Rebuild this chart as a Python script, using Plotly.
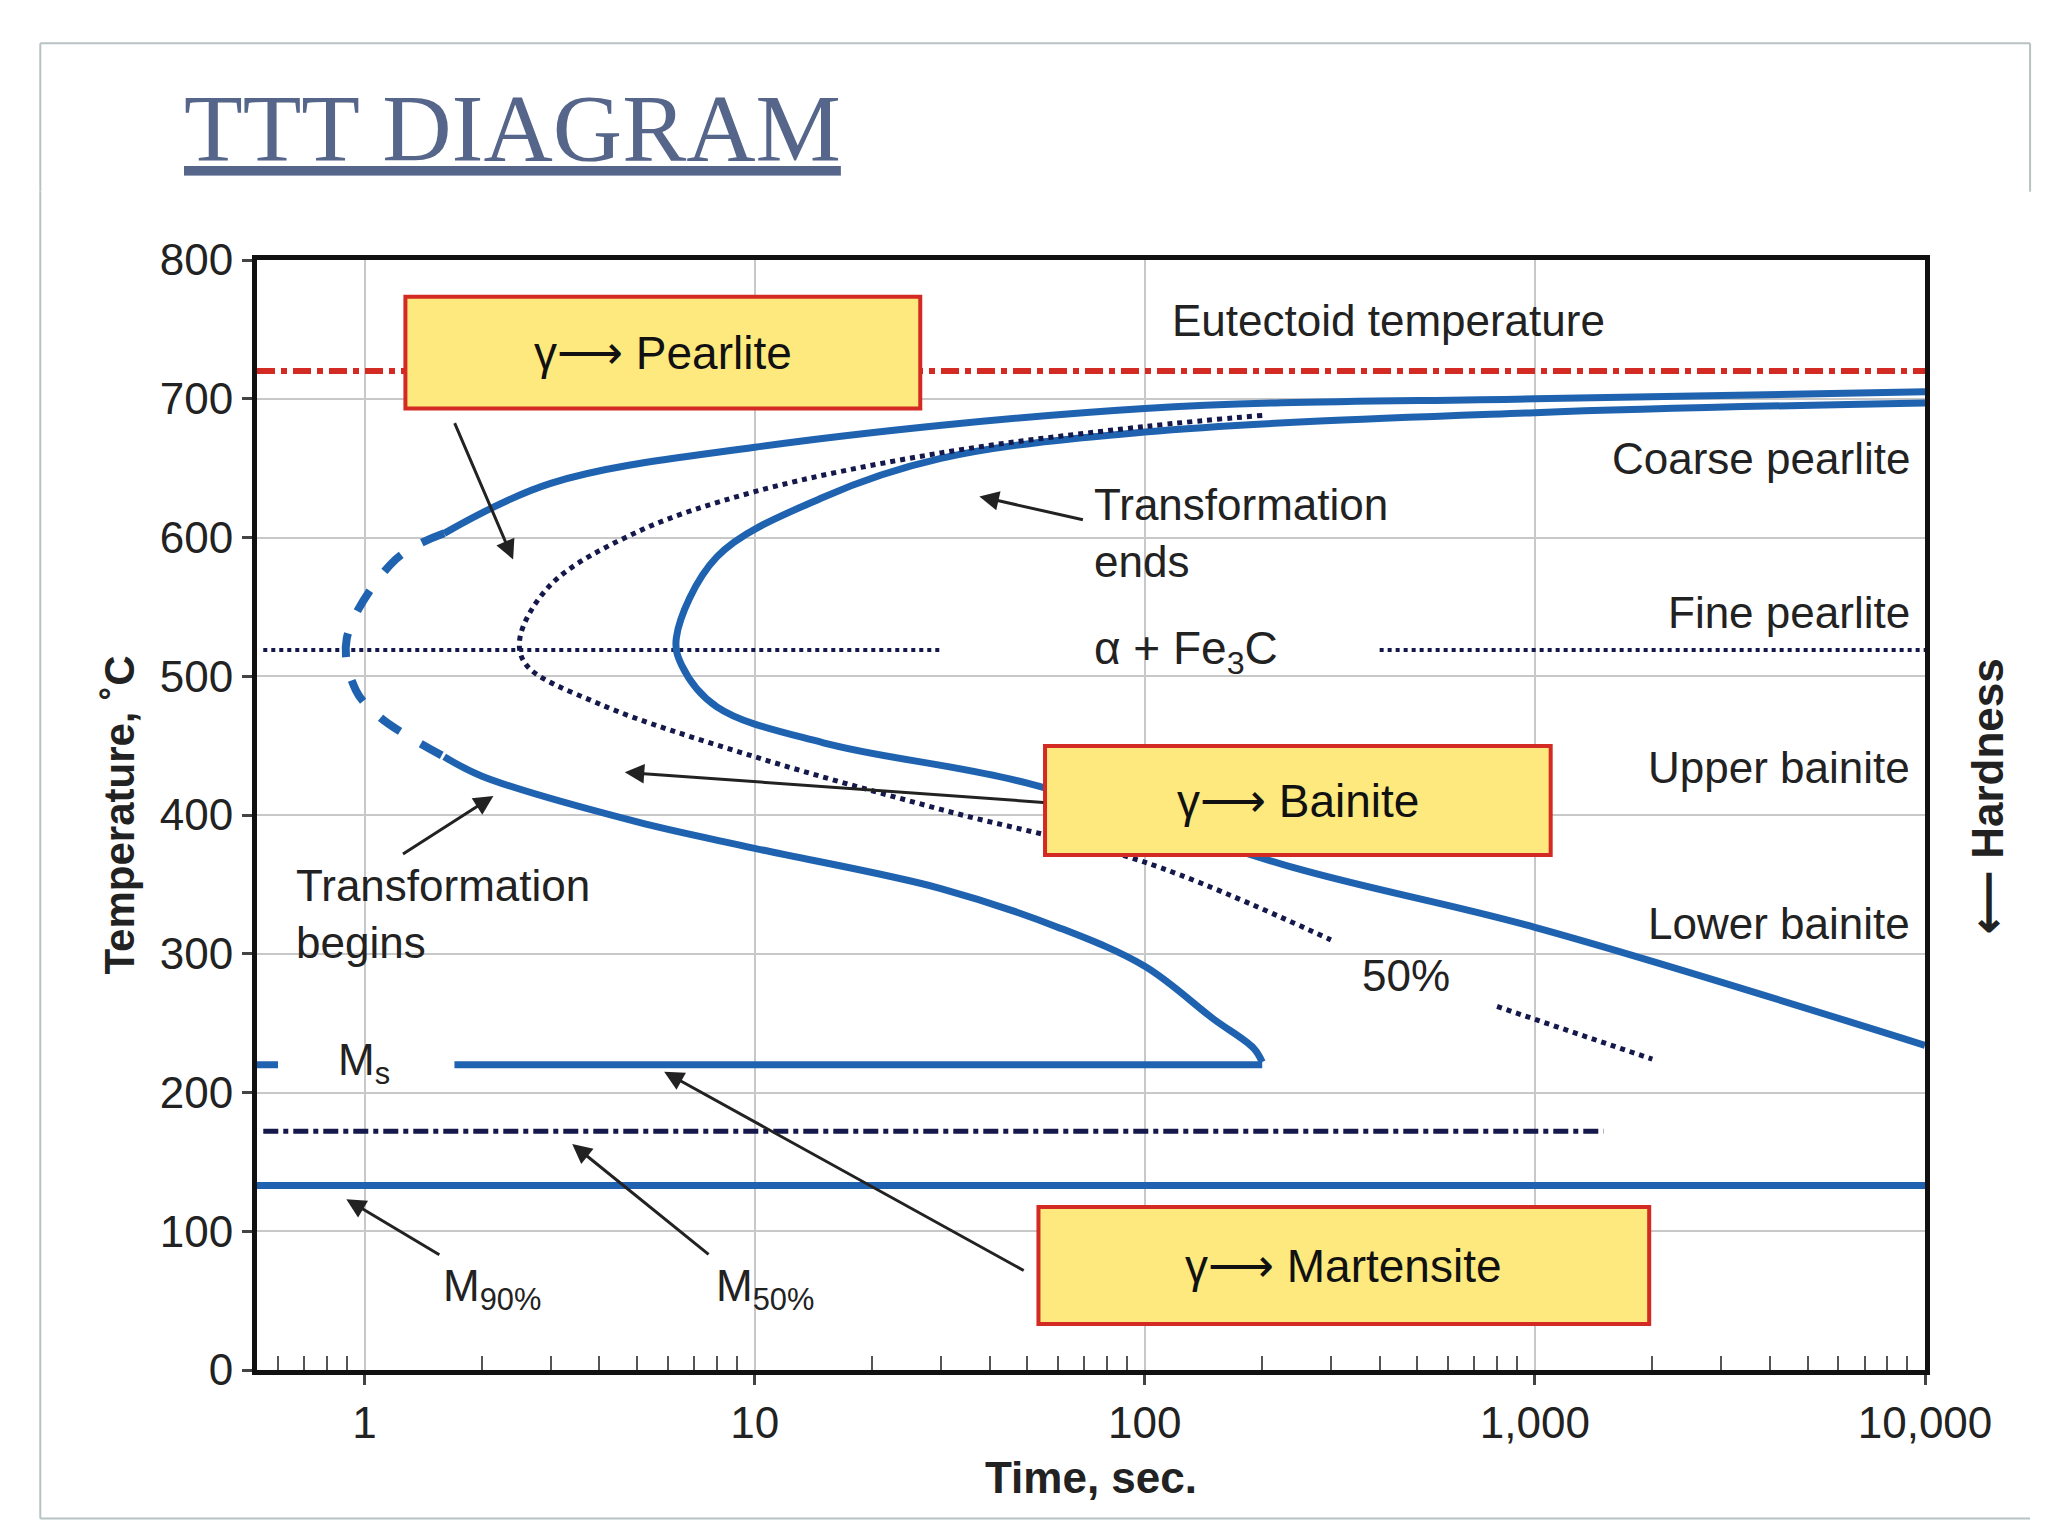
import numpy as np
import plotly.graph_objects as go

# ---- data (time in s, temperature in C) ----
begin_top_t = [10000, 1000, 100, 10, 3, 1.6]
begin_top_T = [705, 700, 693, 665, 639, 603]
begin_nose_t = [1.6, 1.2, 0.9, 0.95, 1.1, 1.6]
begin_nose_T = [603, 584, 527, 490, 470, 442]
begin_low_t = [1.6, 2, 5, 10, 30, 60, 100, 150, 190, 200]
begin_low_T = [442, 428, 395, 376, 347, 319, 291, 253, 232, 222]

end_t = [10000, 1000, 100, 30, 15, 8, 6.3, 6.5, 8, 15, 50, 241, 1000, 10000]
end_T = [697, 690, 676, 657, 629, 586, 528, 508, 478, 452, 423, 362, 319, 234]

half_t = [200, 100, 30, 10, 5, 3, 2.5, 2.6, 4, 10, 30, 100, 300]
half_T = [688, 680, 661, 633, 604, 566, 527, 508, 480, 442, 404, 366, 310]
half_tail_t = [800, 2000]
half_tail_T = [262, 224]

ms_t = [1.7, 200]
ms_T = [220, 220]
m50_t = [0.55, 1500]
m50_T = [172, 172]
m90_t = [0.53, 10000]
m90_T = [133, 133]
eutectoid_T = 720
fine_T = 519

x_ticks = [1, 10, 100, 1000, 10000]
x_ticklabels = ["1", "10", "100", "1,000", "10,000"]
x_minor = [m * 10 ** d for d in range(-1, 4) for m in range(2, 10) if m * 10 ** d >= 0.53]
y_ticks = list(range(0, 801, 100))

BLUE = "#1f63b0"
NAVY = "#14184a"
RED = "#d42a24"
FONT = "Liberation Sans"

# reference pixel (1560-wide scan) -> paper coordinates
X0, X1, Y0, Y1 = 190, 1460, 1037, 192
def px(x):
    return (x - X0) / (X1 - X0)
def py(y):
    return (Y0 - y) / (Y0 - Y1)

fig = go.Figure()

def line(t, T, color=BLUE, width=7, dash=None, shape="spline"):
    fig.add_trace(go.Scatter(x=t, y=T, mode="lines", line_shape=shape,
                             line=dict(color=color, width=width, dash=dash),
                             hoverinfo="skip", showlegend=False))

line([0.53, 10000], [eutectoid_T] * 2, RED, 6, "dashdot", "linear")
line([0.55, 30], [fine_T] * 2, NAVY, 4, "dot", "linear")
line([400, 10000], [fine_T] * 2, NAVY, 4, "dot", "linear")
line(begin_top_t, begin_top_T)
line(begin_nose_t, begin_nose_T, width=8, dash="dash")
line(begin_low_t, begin_low_T)
line(end_t, end_T)
line(half_t, half_T, NAVY, 5, "dot")
line(half_tail_t, half_tail_T, NAVY, 5, "dot", "linear")
line(ms_t, ms_T, shape="linear")
line([0.53, 0.6], [220, 220], shape="linear")
line(m50_t, m50_T, NAVY, 5, "dashdot", "linear")
line(m90_t, m90_T, shape="linear")

shapes = []
ann = []

def box(x0, y0, x1, y1, text):
    shapes.append(dict(type="rect", xref="paper", yref="paper",
                       x0=px(x0), x1=px(x1), y0=py(y1), y1=py(y0),
                       fillcolor="#fde97e", line=dict(color=RED, width=4), layer="above"))
    ann.append(dict(xref="paper", yref="paper", x=px((x0 + x1) / 2), y=py((y0 + y1) / 2),
                    xanchor="center", yanchor="middle",
                    text=text, showarrow=False, font=dict(size=46, color="#111", family=FONT)))

def label(x, y, text, size=44, anchor="left", **kw):
    ann.append(dict(xref="paper", yref="paper", x=px(x), y=py(y), text=text,
                    showarrow=False, xanchor=anchor, yanchor="middle", align="left",
                    font=dict(size=size, color="#222", family=FONT), **kw))

def arrow(x0, y0, x1, y1):
    ann.append(dict(xref="paper", yref="paper", axref="pixel", ayref="pixel",
                    x=px(x1), y=py(y1), ax=(x0 - x1) * 1.313, ay=(y0 - y1) * 1.313,
                    text="", showarrow=True, arrowhead=2, arrowsize=1.3,
                    arrowwidth=3, arrowcolor="#222"))

box(303, 220, 695, 305, "γ⟶ Pearlite")
box(790, 562, 1175, 645, "γ⟶ Bainite")
box(785, 913, 1250, 1002, "γ⟶ Martensite")

label(885, 238, "Eutectoid temperature")
label(1450, 343, "Coarse pearlite", anchor="right")
label(1450, 460, "Fine pearlite", anchor="right")
label(1450, 578, "Upper bainite", anchor="right")
label(1450, 697, "Lower bainite", anchor="right")
label(826, 400, "Transformation<br>ends")
label(218, 690, "Transformation<br>begins")
label(826, 490, "α + Fe<sub>3</sub>C", size=46)
label(1030, 737, "50%")
label(250, 803, "M<sub>s</sub>")
label(330, 975, "M<sub>90%</sub>")
label(538, 975, "M<sub>50%</sub>")
label(1508, 600, "<b>⟵ Hardness</b>", textangle=-90, anchor="center")

arrow(340, 315, 385, 420)
arrow(820, 390, 740, 372)
arrow(300, 645, 370, 600)
arrow(790, 605, 470, 582)
arrow(775, 962, 500, 810)
arrow(330, 950, 258, 907)
arrow(535, 950, 430, 865)

# slide frame and title
for x0, y0, x1, y1 in [(25, 27, 1540, 27), (25, 27, 25, 140), (1540, 27, 1540, 140),
                        (25, 1150, 1540, 1150), (25, 140, 25, 1150)]:
    shapes.append(dict(type="line", xref="paper", yref="paper", x0=px(x0), x1=px(x1),
                       y0=py(y0), y1=py(y1), line=dict(color="#b8c2c2", width=2)))
ann.append(dict(xref="paper", yref="paper", x=px(133), y=py(92), xanchor="left",
                yanchor="middle", text="<u>TTT DIAGRAM</u>", showarrow=False,
                font=dict(size=96, color="#56658a", family="Liberation Serif")))

fig.update_layout(
    width=2048, height=1536, paper_bgcolor="white", plot_bgcolor="white",
    margin=dict(l=249, r=131, t=252, b=174),
    shapes=shapes, annotations=ann, showlegend=False,
    xaxis=dict(type="log", range=[np.log10(0.53), 4.0], tickvals=x_ticks,
               ticktext=x_ticklabels, showgrid=True, gridcolor="#c8c8c8", gridwidth=2,
               showline=True, linecolor="#111", linewidth=5, mirror=True,
               ticks="outside", ticklen=10, tickwidth=3,
               minor=dict(tickvals=x_minor, ticks="inside", ticklen=14, tickwidth=2,
                          tickcolor="#555", showgrid=False),
               tickfont=dict(size=44, family=FONT, color="#222"),
               title=dict(text="<b>Time, sec.</b>",
                          font=dict(size=44, family=FONT, color="#222"), standoff=18)),
    yaxis=dict(range=[0, 800], tickvals=y_ticks, showgrid=True, gridcolor="#c8c8c8",
               gridwidth=2, showline=True, linecolor="#111", linewidth=5, mirror=True,
               ticks="outside", ticklen=10, tickwidth=3, zeroline=False,
               tickfont=dict(size=44, family=FONT, color="#222"),
               title=dict(text="<b>Temperature, ˚C</b>",
                          font=dict(size=42, family=FONT, color="#222"), standoff=14)),
)

fig.write_html("out.html")
